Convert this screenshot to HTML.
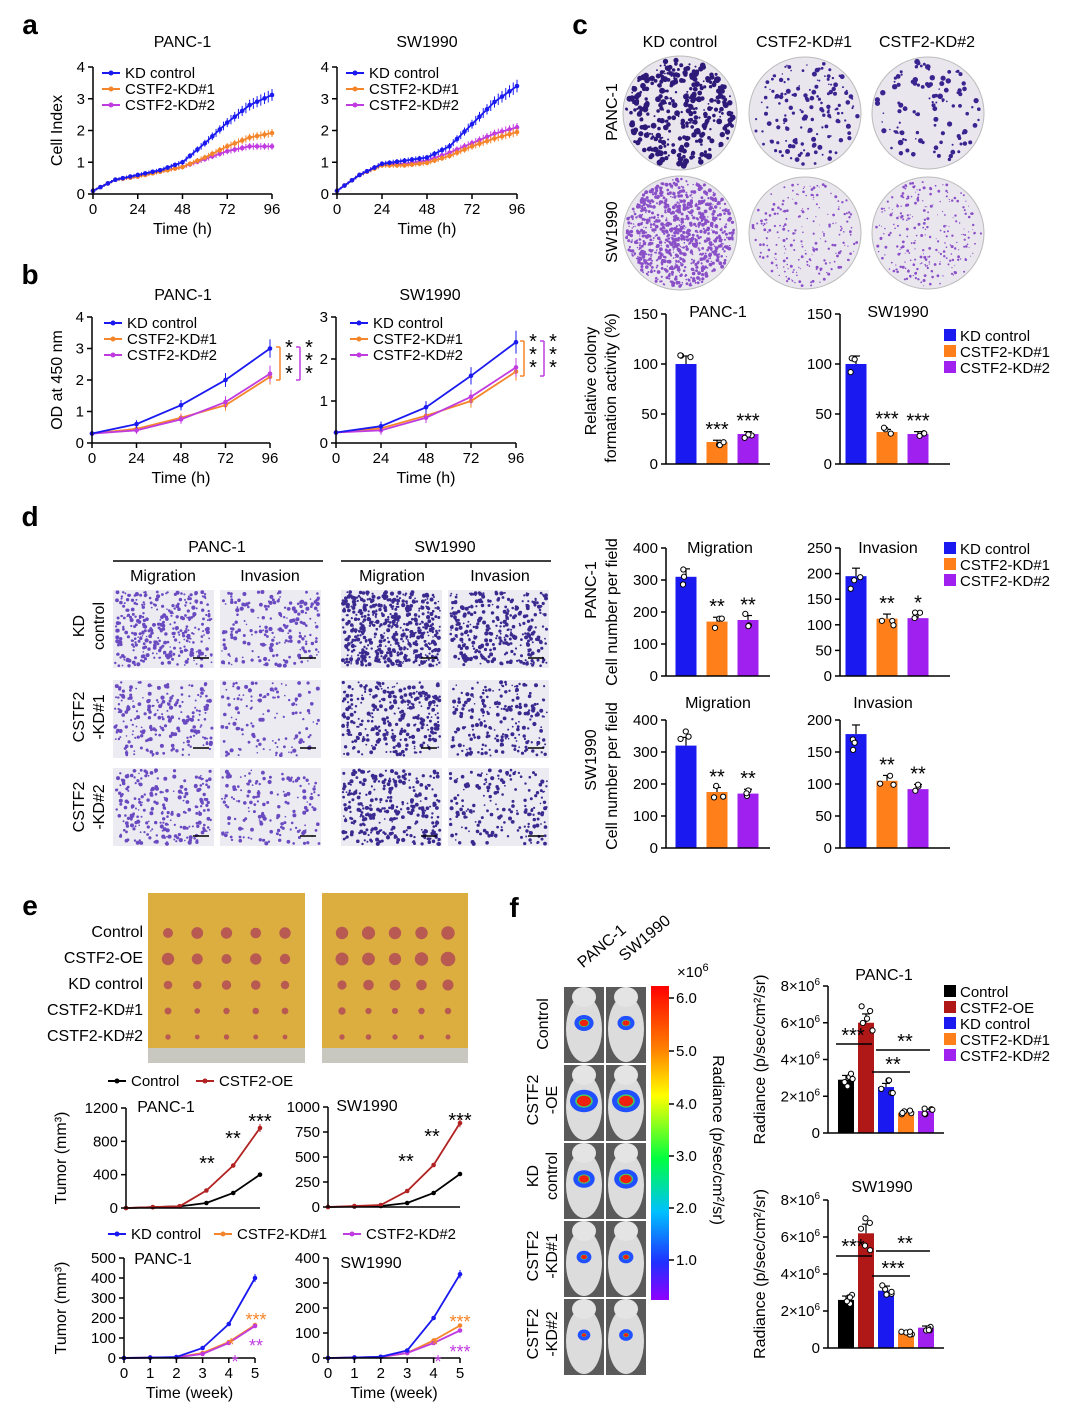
<!DOCTYPE html>
<html><head><meta charset="utf-8"><style>body{margin:0;background:#fff}svg{display:block;font-family:"Liberation Sans",sans-serif}</style></head>
<body><svg id="s" width="1080" height="1414" xmlns="http://www.w3.org/2000/svg"></svg>
<script>
var S='';var BL='#1a1af0',OR='#f5852a',PU='#c03ce0',PUB='#a020f0',ORB='#ff7f1a';
var seed=7;function R(){seed=(seed*16807)%2147483647;return seed/2147483647;}
function T(x,y,t,sz,anc,extra){S+='<text x="'+x+'" y="'+y+'" font-size="'+(sz||15)+'" text-anchor="'+(anc||'middle')+'" '+(extra||'')+'>'+t+'</text>';}
function L(a,b,c,d,col,w,ex){S+='<line x1="'+a+'" y1="'+b+'" x2="'+c+'" y2="'+d+'" stroke="'+(col||'#000')+'" stroke-width="'+(w||1.5)+'" '+(ex||'')+'/>';}
function axes(o){var x0=o.x0,x1=o.x1,yb=o.yb,yt=o.yt;
L(x0,yb,x1,yb);L(x0,yb,x0,yt);
(o.yt_||[]).forEach(function(v,i){var y=yb-(yb-yt)*v/o.ymax;L(x0-5,y,x0,y);T(x0-8,y+5,o.ylab?o.ylab[i]:v,15,'end');});
(o.xt||[]).forEach(function(v){var x=x0+(x1-x0)*v/o.xmax;L(x,yb,x,yb+5);T(x,yb+20,v,15);});
if(o.title)T(o.tx||(x0+x1)/2,o.ty||yt-10,o.title,16);
if(o.xl)T((x0+x1)/2,yb+40,o.xl,16);
if(o.yl)T(0,0,o.yl,16,'middle','transform="translate('+o.ylx+','+(yb+yt)/2+') rotate(-90)"');}
function interp(k,t){for(var i=1;i<k.length;i++)if(t<=k[i][0]){var a=k[i-1],b=k[i];return a[1]+(b[1]-a[1])*(t-a[0])/(b[0]-a[0]);}return k[k.length-1][1];}
function lines(o,ser,step){ser.forEach(function(s){var pts=[];var X=function(v){return o.x0+(o.x1-o.x0)*v/o.xmax},Y=function(v){return o.yb-(o.yb-o.yt)*v/o.ymax};
var ts=[];if(step){for(var t=0;t<=o.xmax;t+=step)ts.push(t);}else ts=s.k.map(function(p){return p[0]});
ts.forEach(function(t){var v=interp(s.k,t);pts.push(X(t)+','+Y(v));var e=(s.e||0.05)*v+ (step?0.03:0.08);var ey=(o.yb-o.yt)*e/o.ymax;L(X(t),Y(v)-ey,X(t),Y(v)+ey,s.c,1);if(!step||t%4==0)S+='<circle cx="'+X(t)+'" cy="'+Y(v)+'" r="2.3" fill="'+s.c+'"/>';});
S+='<polyline points="'+pts.join(' ')+'" fill="none" stroke="'+s.c+'" stroke-width="1.8"/>';});}
function legend(x,y,items,dy,sz){items.forEach(function(it,i){var yy=y+i*(dy||16);L(x,yy,x+18,yy,it[1],2);S+='<circle cx="'+(x+9)+'" cy="'+yy+'" r="2.5" fill="'+it[1]+'"/>';T(x+23,yy+5,it[0],sz||15,'start');});}
function boxleg(x,y,items,dy){items.forEach(function(it,i){var yy=y+i*(dy||16);S+='<rect x="'+x+'" y="'+(yy-6)+'" width="12" height="12" fill="'+it[1]+'"/>';T(x+16,yy+6,it[0],15,'start');});}
function bars(o,vals,cols,stars,n){var X=function(i){return o.x0+o.off+i*o.sp},Y=function(v){return o.yb-(o.yb-o.yt)*v/o.ymax};
vals.forEach(function(v,i){var x=X(i);S+='<rect x="'+(x-o.bw/2)+'" y="'+Y(v)+'" width="'+o.bw+'" height="'+(o.yb-Y(v))+'" fill="'+cols[i]+'"/>';
var e=v*0.08;L(x,Y(v+e),x,Y(v),'#000',1.2);L(x-4,Y(v+e),x+4,Y(v+e),'#000',1.2);
for(var j=0;j<(n||3);j++){var jv=v*(0.85+0.3*R());S+='<circle cx="'+(x-7+14*R())+'" cy="'+Y(jv)+'" r="2.6" fill="#fff" stroke="#000" stroke-width="1"/>';}
if(stars&&stars[i])T(x,Y(v+e)-4,stars[i],20,'middle',stars[i+5]?'fill="'+stars[i+5]+'"':'');});axes(o);}
[['a',30,34],['b',30,284],['c',580,34],['d',30,526],['e',30,915],['f',514,917]].forEach(function(p){T(p[1],p[2],p[0],28,'middle','font-weight="bold"');});
var A1={x0:93,x1:272,yb:194,yt:67,xmax:96,ymax:4,xt:[0,24,48,72,96],yt_:[0,1,2,3,4],title:'PANC-1',ty:47,xl:'Time (h)',yl:'Cell Index',ylx:62};
lines(A1,[{c:PU,k:[[0,.1],[12,.45],[24,.55],[36,.72],[48,.85],[60,1.1],[72,1.35],[84,1.5],[96,1.5]]},{c:OR,k:[[0,.1],[12,.45],[24,.55],[36,.7],[48,.85],[60,1.15],[72,1.5],[84,1.78],[96,1.92]]},{c:BL,k:[[0,.1],[12,.45],[24,.6],[36,.75],[48,1.0],[60,1.6],[72,2.25],[84,2.8],[96,3.12]]}],2);axes(A1);
legend(102,73,[['KD control',BL],['CSTF2-KD#1',OR],['CSTF2-KD#2',PU]]);
var A2={x0:337,x1:517,yb:194,yt:67,xmax:96,ymax:4,xt:[0,24,48,72,96],yt_:[0,1,2,3,4],title:'SW1990',ty:47,xl:'Time (h)'};
lines(A2,[{c:PU,k:[[0,.1],[12,.6],[24,.95],[36,.95],[48,1.05],[60,1.3],[72,1.6],[84,1.9],[96,2.1]]},{c:OR,k:[[0,.1],[12,.6],[24,.9],[36,.9],[48,.98],[60,1.2],[72,1.5],[84,1.75],[96,1.95]]},{c:BL,k:[[0,.1],[12,.6],[24,.95],[36,1.05],[48,1.15],[60,1.5],[72,2.2],[84,2.9],[96,3.4]]}],2);axes(A2);
legend(346,73,[['KD control',BL],['CSTF2-KD#1',OR],['CSTF2-KD#2',PU]]);
var B1={x0:92,x1:270,yb:443,yt:317,xmax:96,ymax:4,xt:[0,24,48,72,96],yt_:[0,1,2,3,4],title:'PANC-1',tx:183,ty:300,xl:'Time (h)',yl:'OD at 450 nm',ylx:62};
lines(B1,[{c:OR,k:[[0,.3],[24,.45],[48,.8],[72,1.2],[96,2.1]],e:.08},{c:PU,k:[[0,.3],[24,.4],[48,.75],[72,1.3],[96,2.2]],e:.08},{c:BL,k:[[0,.3],[24,.6],[48,1.2],[72,2.0],[96,3.0]],e:.07}]);axes(B1);
legend(104,323,[['KD control',BL],['CSTF2-KD#1',OR],['CSTF2-KD#2',PU]]);
var B2={x0:336,x1:516,yb:443,yt:317,xmax:96,ymax:3,xt:[0,24,48,72,96],yt_:[0,1,2,3],title:'SW1990',tx:430,ty:300,xl:'Time (h)'};
lines(B2,[{c:OR,k:[[0,.25],[24,.35],[48,.65],[72,1.0],[96,1.7]],e:.08},{c:PU,k:[[0,.25],[24,.3],[48,.6],[72,1.1],[96,1.8]],e:.08},{c:BL,k:[[0,.25],[24,.4],[48,.85],[72,1.6],[96,2.4]],e:.08}]);axes(B2);
legend(350,323,[['KD control',BL],['CSTF2-KD#1',OR],['CSTF2-KD#2',PU]]);
[[276,OR],[296,PU]].forEach(function(b){L(b[0],347,b[0]+4,347,b[1]);L(b[0]+4,347,b[0]+4,380,b[1]);L(b[0],380,b[0]+4,380,b[1]);});
[[520,OR],[540,PU]].forEach(function(b){L(b[0],341,b[0]+4,341,b[1]);L(b[0]+4,341,b[0]+4,376,b[1]);L(b[0],376,b[0]+4,376,b[1]);});
[[289,342],[309,342],[533,336],[553,336]].forEach(function(p){for(var k=0;k<3;k++)T(p[0],p[1]+k*13+12,'*',20);});
T(680,47,'KD control',16);T(804,47,'CSTF2-KD#1',16);T(927,47,'CSTF2-KD#2',16);
T(0,0,'PANC-1',16,'middle','transform="translate(617,112) rotate(-90)"');T(0,0,'SW1990',16,'middle','transform="translate(617,232) rotate(-90)"');
function plate(cx,cy,r,n,col,sz){S+='<circle cx="'+cx+'" cy="'+cy+'" r="'+r+'" fill="#eae6ee" stroke="#bbb"/>';for(var i=0;i<n;i++){var a=R()*6.283,d=Math.sqrt(R())*(r-3);S+='<circle cx="'+(cx+d*Math.cos(a)).toFixed(1)+'" cy="'+(cy+d*Math.sin(a)).toFixed(1)+'" r="'+(sz*(0.4+R())).toFixed(1)+'" fill="'+col+'"/>';}}
plate(680,113,57,380,'#2d1a78',2.2);plate(805,113,56,160,'#3a2590',1.8);plate(928,113,56,110,'#3a2590',2.0);
plate(680,233,57,900,'#8a50c8',1.4);plate(805,233,56,220,'#8a50c8',1.1);plate(928,233,56,260,'#8a50c8',1.1);
bars({x0:666,x1:770,yb:464,yt:314,ymax:150,yt_:[0,50,100,150],off:20,sp:31,bw:21,title:'PANC-1',tx:718,ty:317,yl:'',ylx:0},[100,22,30],[BL,ORB,PUB],['','***','***']);
bars({x0:840,x1:950,yb:464,yt:314,ymax:150,yt_:[0,50,100,150],off:16,sp:31,bw:21,title:'SW1990',tx:898,ty:317},[100,32,30],[BL,ORB,PUB],['','***','***']);
T(0,0,'Relative colony',16,'middle','transform="translate(596,381) rotate(-90)"');T(0,0,'formation activity (%)',16,'middle','transform="translate(616,388) rotate(-90)"');
boxleg(944,335,[['KD control',BL],['CSTF2-KD#1',ORB],['CSTF2-KD#2',PUB]]);
T(217,552,'PANC-1',16);T(445,552,'SW1990',16);L(113,561,323,561);L(341,561,551,561);
[['Migration',163],['Invasion',270],['Migration',392],['Invasion',500]].forEach(function(m){T(m[1],581,m[0],16);});
var cols=[113,220,341,448],rows=[590,680,768],dens=[[330,200,550,330],[230,130,300,220],[240,160,310,180]];
rows.forEach(function(ry,ri){cols.forEach(function(cx,ci){S+='<rect x="'+cx+'" y="'+ry+'" width="101" height="78" fill="#ecebf2"/>';var n=dens[ri][ci],c=ci>=2?'#3a2a90':'#6a4ac0';for(var i=0;i<n;i++)S+='<circle cx="'+(cx+2+R()*97).toFixed(1)+'" cy="'+(ry+2+R()*74).toFixed(1)+'" r="'+(0.8+R()*1.3).toFixed(1)+'" fill="'+c+'"/>';L(cx+80,ry+68,cx+96,ry+68,'#000',1.5);});});
[['KD',626,'control',606],['CSTF2',717,'-KD#1',696],['CSTF2',807,'-KD#2',786]].forEach(function(r){T(0,0,r[0],16,'middle','transform="translate(84,'+r[1]+') rotate(-90)"');T(0,0,r[2],16,'middle','transform="translate(104,'+(r[1])+') rotate(-90)"');});
bars({x0:666,x1:770,yb:676,yt:548,ymax:400,yt_:[0,100,200,300,400],off:20,sp:31,bw:21,title:'Migration',tx:720,ty:553},[310,170,175],[BL,ORB,PUB],['','**','**']);
bars({x0:840,x1:950,yb:676,yt:548,ymax:250,yt_:[0,50,100,150,200,250],off:16,sp:31,bw:21,title:'Invasion',tx:888,ty:553},[195,112,113],[BL,ORB,PUB],['','**','*']);
bars({x0:666,x1:770,yb:848,yt:720,ymax:400,yt_:[0,100,200,300,400],off:20,sp:31,bw:21,title:'Migration',tx:718,ty:708},[320,175,170],[BL,ORB,PUB],['','**','**']);
bars({x0:840,x1:950,yb:848,yt:720,ymax:200,yt_:[0,50,100,150,200],off:16,sp:31,bw:21,title:'Invasion',tx:883,ty:708},[178,105,92],[BL,ORB,PUB],['','**','**']);
T(0,0,'PANC-1',16,'middle','transform="translate(596,590) rotate(-90)"');T(0,0,'Cell number per field',16,'middle','transform="translate(617,612) rotate(-90)"');
T(0,0,'SW1990',16,'middle','transform="translate(596,760) rotate(-90)"');T(0,0,'Cell number per field',16,'middle','transform="translate(617,776) rotate(-90)"');
boxleg(944,548,[['KD control',BL],['CSTF2-KD#1',ORB],['CSTF2-KD#2',PUB]]);
T(225,916,'PANC-1',16);T(395,916,'SW1990',16);
[['Control',932],['CSTF2-OE',958],['KD control',984],['CSTF2-KD#1',1010],['CSTF2-KD#2',1036]].forEach(function(r){T(143,r[1]+5,r[0],16,'end');});
function board(x,w,sz){S+='<rect x="'+x+'" y="893" width="'+w+'" height="170" fill="#dcae40"/><rect x="'+x+'" y="1048" width="'+w+'" height="15" fill="#c8c8c0"/>';
var s=[[9,10],[9,10],[7,8],[5,6],[4,5]];for(var r=0;r<5;r++)for(var c=0;c<5;c++)S+='<circle cx="'+(x+20+c*(w-40)/4)+'" cy="'+(933+r*26)+'" r="'+(s[r][0]*sz*(0.8+0.3*R())).toFixed(1)+'" fill="#b85a52"/>';}
board(148,157,0.65);board(322,146,0.75);
var E1={x0:126,x1:260,yb:1208,yt:1108,xmax:5,ymax:1200,yt_:[0,400,800,1200],title:'PANC-1',tx:166,ty:1112,yl:'Tumor (mm\u00b3)',ylx:66};
lines(E1,[{c:'#000',k:[[0,0],[1,10],[2,20],[3,60],[4,180],[5,400]]},{c:'#b22222',k:[[0,0],[1,10],[2,20],[3,210],[4,510],[5,960]]}]);axes(E1);
var E2={x0:328,x1:460,yb:1207,yt:1107,xmax:5,ymax:1000,yt_:[0,250,500,750,1000],title:'SW1990',tx:367,ty:1111};
lines(E2,[{c:'#000',k:[[0,0],[1,5],[2,10],[3,40],[4,140],[5,330]]},{c:'#b22222',k:[[0,0],[1,10],[2,20],[3,160],[4,420],[5,840]]}]);axes(E2);
legend(108,1081,[['Control','#000']]);legend(196,1081,[['CSTF2-OE','#b22222']]);
[[207,1160,'**'],[233,1135,'**'],[260,1118,'***'],[406,1158,'**'],[432,1133,'**'],[460,1117,'***']].forEach(function(p){T(p[0],p[1]+10,p[2],20);});
legend(108,1234,[['KD control',BL]]);legend(214,1234,[['CSTF2-KD#1',OR]]);legend(343,1234,[['CSTF2-KD#2',PU]]);
var E3={x0:124,x1:255,yb:1358,yt:1258,xmax:5,ymax:500,xt:[0,1,2,3,4,5],yt_:[0,100,200,300,400,500],title:'PANC-1',tx:163,ty:1264,xl:'Time (week)',yl:'Tumor (mm\u00b3)',ylx:66};
lines(E3,[{c:OR,k:[[0,0],[1,2],[2,3],[3,25],[4,80],[5,165]]},{c:PU,k:[[0,0],[1,2],[2,3],[3,20],[4,75],[5,160]]},{c:BL,k:[[0,0],[1,2],[2,5],[3,50],[4,170],[5,400]]}]);axes(E3);
var E4={x0:328,x1:460,yb:1358,yt:1258,xmax:5,ymax:400,xt:[0,1,2,3,4,5],yt_:[0,100,200,300,400],title:'SW1990',tx:371,ty:1268,xl:'Time (week)'};
lines(E4,[{c:OR,k:[[0,0],[1,2],[2,4],[3,20],[4,70],[5,130]]},{c:PU,k:[[0,0],[1,2],[2,4],[3,20],[4,60],[5,110]]},{c:BL,k:[[0,0],[1,2],[2,5],[3,30],[4,160],[5,335]]}]);axes(E4);
[[231,1343,'*',OR],[235,1360,'*',PU],[256,1318,'***',OR],[256,1344,'**',PU],[435,1343,'*',OR],[438,1360,'*',PU],[460,1320,'***',OR],[460,1350,'***',PU]].forEach(function(p){T(p[0],p[1]+8,p[2],18,'middle','fill="'+p[3]+'"');});
T(0,0,'PANC-1',16,'middle','transform="translate(605,950) rotate(-40)"');T(0,0,'SW1990',16,'middle','transform="translate(648,942) rotate(-40)"');
var blobs=[[.6,.5],[1,1],[.7,.8],[.4,.4],[.3,.35]];
for(var r=0;r<5;r++){var y=987+r*78;[[564,0],[606,1]].forEach(function(m){S+='<rect x="'+m[0]+'" y="'+y+'" width="40" height="76" fill="#5a5a5a"/><ellipse cx="'+(m[0]+20)+'" cy="'+(y+42)+'" rx="18" ry="33" fill="#dcdcdc"/><ellipse cx="'+(m[0]+20)+'" cy="'+(y+10)+'" rx="12" ry="10" fill="#e4e4e4"/>';var b=blobs[r][m[1]]*11;S+='<ellipse cx="'+(m[0]+20)+'" cy="'+(y+36)+'" rx="'+(b+3)+'" ry="'+(b*0.75+3)+'" fill="#2050ff"/><ellipse cx="'+(m[0]+20)+'" cy="'+(y+36)+'" rx="'+(b*0.8)+'" ry="'+(b*0.6)+'" fill="#40d060"/><ellipse cx="'+(m[0]+20)+'" cy="'+(y+36)+'" rx="'+(b*0.65)+'" ry="'+(b*0.48)+'" fill="#f02010"/>';});}
[['Control',1024,''],['CSTF2',1100,'-OE'],['KD',1176,'control'],['CSTF2',1256,'-KD#1'],['CSTF2',1334,'-KD#2']].forEach(function(r){if(r[2]){T(0,0,r[0],16,'middle','transform="translate(538,'+r[1]+') rotate(-90)"');T(0,0,r[2],16,'middle','transform="translate(557,'+r[1]+') rotate(-90)"');}else T(0,0,r[0],16,'middle','transform="translate(548,'+r[1]+') rotate(-90)"');});
S+='<defs><linearGradient id="cb" x1="0" y1="0" x2="0" y2="1"><stop offset="0" stop-color="#ff0000"/><stop offset=".2" stop-color="#ff8000"/><stop offset=".35" stop-color="#ffff00"/><stop offset=".55" stop-color="#00ff40"/><stop offset=".72" stop-color="#00c0ff"/><stop offset=".88" stop-color="#2030ff"/><stop offset="1" stop-color="#9000ff"/></linearGradient></defs><rect x="651" y="986" width="18" height="314" fill="url(#cb)"/>';
T(677,977,'\u00d710<tspan font-size="11" dy="-6">6</tspan>',15,'start');
[['6.0',998],['5.0',1051],['4.0',1104],['3.0',1156],['2.0',1208],['1.0',1260]].forEach(function(t){L(669,t[1],674,t[1]);T(676,t[1]+5,t[0],15,'start');});
T(0,0,'Radiance (p/sec/cm\u00b2/sr)',16,'middle','transform="translate(713,1140) rotate(90)"');
var FL=['0','2\u00d710<tspan font-size="10" dy="-6">6</tspan>','4\u00d710<tspan font-size="10" dy="-6">6</tspan>','6\u00d710<tspan font-size="10" dy="-6">6</tspan>','8\u00d710<tspan font-size="10" dy="-6">6</tspan>'];
var fc=['#000','#b01818',BL,ORB,PUB];
bars({x0:828,x1:944,yb:1133,yt:986,ymax:8,yt_:[0,2,4,6,8],ylab:FL,off:18,sp:20,bw:16,title:'PANC-1',tx:884,ty:980,yl:'Radiance (p/sec/cm\u00b2/sr)',ylx:765},[2.9,6.0,2.5,1.1,1.2],fc,null,5);
bars({x0:828,x1:944,yb:1348,yt:1200,ymax:8,yt_:[0,2,4,6,8],ylab:FL,off:18,sp:20,bw:16,title:'SW1990',tx:882,ty:1192,yl:'Radiance (p/sec/cm\u00b2/sr)',ylx:765},[2.6,6.2,3.1,0.8,1.1],fc,null,5);
L(836,1044,872,1044);T(853,1042,'***',20);L(872,1072,910,1072);T(893,1071,'**',20);L(876,1050,930,1050);T(905,1048,'**',20);
L(836,1256,872,1256);T(853,1253,'***',20);L(872,1276,910,1276);T(893,1275,'***',20);L(876,1251,930,1251);T(905,1250,'**',20);
boxleg(944,991,[['Control','#000'],['CSTF2-OE','#b01818'],['KD control',BL],['CSTF2-KD#1',ORB],['CSTF2-KD#2',PUB]]);
document.getElementById('s').innerHTML='<rect width="1080" height="1414" fill="#fff"/>'+S;
</script></body></html>
